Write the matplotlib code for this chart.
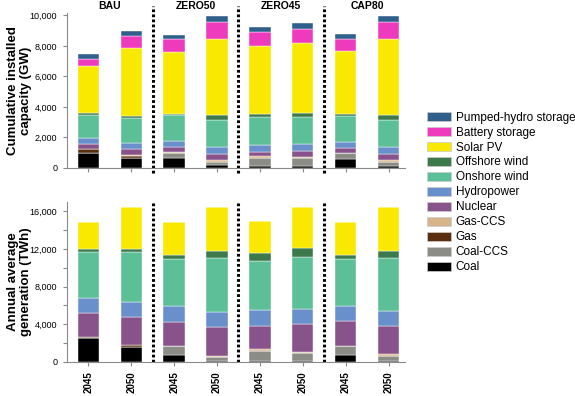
import matplotlib
matplotlib.use("Agg")
import matplotlib.pyplot as plt
import numpy as np
from matplotlib.patches import Patch

plt.rcParams["font.family"] = ["Liberation Sans", "DejaVu Sans"]

scenarios = ["BAU", "ZERO50", "ZERO45", "CAP80"]
years = ["2045", "2050"] * 4
techs = ["Coal", "Coal-CCS", "Gas", "Gas-CCS", "Nuclear", "Hydropower",
         "Onshore wind", "Offshore wind", "Solar PV", "Battery storage",
         "Pumped-hydro storage"]
colors = ["#000000", "#8c8c86", "#5a2e0e", "#d8b48a", "#88538b", "#6a90cc",
          "#5cbf97", "#3d7a4b", "#f9e900", "#ee3bbe", "#2f5f8a"]

# capacity (GW), bar order: BAU45, BAU50, ZERO50 45/50, ZERO45 45/50, CAP80 45/50
cap_coal = [1000, 640, 660, 170, 150, 150, 590, 150]
cap_coal_ccs = [0, 0, 340, 240, 490, 490, 370, 260]
cap_gas = [250, 170, 0, 0, 0, 0, 0, 0]
cap_gas_ccs = [0, 60, 30, 120, 150, 100, 30, 120]
cap_nuclear = [310, 360, 350, 390, 280, 400, 300, 390]
cap_hydro = [390, 400, 400, 440, 440, 420, 400, 420]
cap_onshore = [1540, 1640, 1660, 1800, 1800, 1770, 1730, 1820]
cap_offshore = [80, 150, 110, 280, 220, 240, 110, 280]
cap_solar = [3120, 4440, 4060, 4980, 4450, 4590, 4120, 4980]
cap_battery = [460, 800, 810, 1160, 950, 960, 810, 1140]
cap_pumped = [330, 340, 310, 370, 300, 400, 330, 390]

# generation (TWh)
gen_coal = [2500, 1620, 740, 50, 100, 100, 780, 50]
gen_coal_ccs = [0, 0, 950, 450, 1100, 890, 910, 620]
gen_gas = [150, 140, 0, 0, 0, 0, 0, 0]
gen_gas_ccs = [0, 0, 0, 150, 210, 30, 30, 140]
gen_nuclear = [2500, 2970, 2570, 3020, 2430, 2970, 2580, 2970]
gen_hydro = [1650, 1650, 1700, 1690, 1660, 1650, 1630, 1620]
gen_onshore = [4870, 5290, 4940, 5680, 5220, 5510, 5000, 5640]
gen_offshore = [320, 320, 500, 740, 850, 990, 470, 740]
gen_solar = [2860, 4440, 3450, 4650, 3380, 4370, 3450, 4650]
gen_battery = [0] * 8
gen_pumped = [0] * 8

capacity = [cap_coal, cap_coal_ccs, cap_gas, cap_gas_ccs, cap_nuclear, cap_hydro,
            cap_onshore, cap_offshore, cap_solar, cap_battery, cap_pumped]
generation = [gen_coal, gen_coal_ccs, gen_gas, gen_gas_ccs, gen_nuclear, gen_hydro,
              gen_onshore, gen_offshore, gen_solar, gen_battery, gen_pumped]

fig = plt.figure(figsize=(5.75, 3.96), dpi=100)
ax1 = fig.add_axes([0.1165, 0.576, 0.5875, 0.391])
ax2 = fig.add_axes([0.1165, 0.086, 0.5875, 0.404])

x = np.arange(len(years))
grey = "#8a8a8a"


def draw(ax, data, ymax, step, ylabel, top_ext, bot_ext):
    bottom = np.zeros(len(x))
    for vals, c in zip(data, colors):
        v = np.array(vals, dtype=float)
        ax.bar(x, v, 0.5, bottom=bottom, color=c, edgecolor="white",
               linewidth=0.3)
        bottom += v
    ax.set_xlim(-0.5, 7.38)
    ax.set_ylim(0, ymax)
    ax.set_yticks(np.arange(0, ymax, step))
    ax.yaxis.set_major_formatter(matplotlib.ticker.StrMethodFormatter("{x:,.0f}"))
    for s in ("top", "right"):
        ax.spines[s].set_visible(False)
    for s in ("left", "bottom"):
        ax.spines[s].set_color(grey)
    ax.tick_params(axis="both", colors=grey, labelcolor="black", labelsize=6.5,
                   length=3, width=0.8, pad=4)
    ax.set_xticks(x)
    ax.set_ylabel(ylabel, fontsize=9.5, fontweight="bold", linespacing=1.08)
    ax.yaxis.set_label_coords(-0.105, 0.5)
    for sep in (1.5, 3.5, 5.5):
        ax.axvline(sep, ymin=bot_ext, ymax=top_ext, color="black",
                   linewidth=2.2, linestyle=(0, (0.9, 0.75)), clip_on=False)


draw(ax1, capacity, 10150, 2000, "Cumulative installed\ncapacity (GW)", 1.045, -0.03)
draw(ax2, generation, 17000, 4000, "Annual average\ngeneration (TWh)", 1.0, 0.0)
ax2.set_yticks(np.arange(0, 17000, 2000), minor=True)
ax2.tick_params(axis="y", which="minor", colors=grey, length=3, width=0.8)

ax1.set_xticklabels([])
ax2.set_xticklabels(years, rotation=90, fontsize=7, fontweight="bold")

for i, name in enumerate(scenarios):
    ax1.text(2 * i + 0.5, 1.045, name, transform=ax1.get_xaxis_transform(),
             ha="center", va="center", fontsize=7.5, fontweight="bold")

handles = [Patch(facecolor=c, edgecolor="#cccccc", linewidth=0.5, label=t)
           for t, c in zip(techs, colors)][::-1]
fig.legend(handles=handles, loc="upper left", bbox_to_anchor=(0.735, 0.73),
           frameon=False, fontsize=8.5, handlelength=2.0, handleheight=0.8,
           handletextpad=0.4, labelspacing=0.25, borderaxespad=0)

fig.savefig("out.png", dpi=100)
